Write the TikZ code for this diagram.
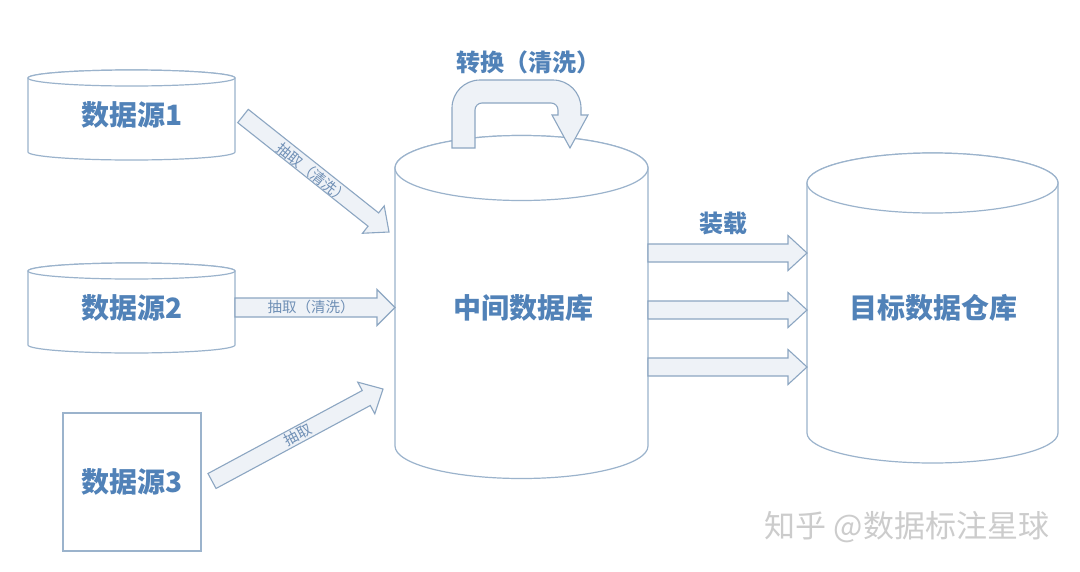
\documentclass[tikz,border=0pt]{standalone}
\usepackage{fontspec}
\newfontfamily\cjk{Noto Sans CJK SC}
\usetikzlibrary{calc}
\definecolor{txt}{HTML}{5182B8}
\definecolor{edge}{HTML}{9BB3CC}
\definecolor{aedge}{HTML}{8CA6C2}
\definecolor{afill}{HTML}{EEF2F7}
\definecolor{lbl}{HTML}{6F8FB5}
% cylinder: cx, rx, top y, bottom y, ry
\newcommand\mycyl[5]{%
  \filldraw[cylline] (#1-#2,#3) -- (#1-#2,#4)
    arc[start angle=180,end angle=360,x radius=#2 pt,y radius=#5 pt]
    -- (#1+#2,#3)
    arc[start angle=0,end angle=180,x radius=#2 pt,y radius=#5 pt] -- cycle;
  \draw[cylline] (#1,#3) ellipse[x radius=#2 pt,y radius=#5 pt];}
% block arrow: from, to, half shaft, half head, head length
\newcommand\myarrow[5]{%
  \coordinate (hb) at ($(#2)!#5!(#1)$);
  \draw[barrow] ($(#1)!#3!90:(#2)$) -- ($(hb)!#3!90:(#2)$) -- ($(hb)!#4!90:(#2)$)
    -- (#2) -- ($(hb)!#4!-90:(#2)$) -- ($(hb)!#3!-90:(#2)$) -- ($(#1)!#3!-90:(#2)$) -- cycle;}
\begin{document}
\begin{tikzpicture}[x=1pt,y=-1pt,
  cylline/.style={draw=edge,line width=1.2pt,fill=white},
  barrow/.style={draw=aedge,line width=1.1pt,fill=afill,line join=miter},
  big/.style={text=txt,font=\cjk\bfseries\fontsize{28}{30}\selectfont,inner sep=0pt},
  midtxt/.style={text=txt,font=\cjk\bfseries\fontsize{24}{26}\selectfont,inner sep=0pt},
  small/.style={text=lbl,font=\cjk\fontsize{14.5}{16}\selectfont,inner sep=0pt}]
\useasboundingbox (0,0) rectangle (1080,571);
\fill[white] (0,0) rectangle (1080,571);

% shapes
\mycyl{131.5}{103.5}{78}{152}{8}
\mycyl{131.5}{103.5}{271}{345}{8}
\draw[cylline] (63,413) rectangle (201,551);
\mycyl{521.5}{126.5}{168}{446}{32.5}
\mycyl{932.5}{125.5}{183}{433}{30}

% texts
\node[big] (src1) at (132,115) {数据源1};
\node[big] (src2) at (132,308) {数据源2};
\node[big] (src3) at (132,482) {数据源3};
\node[big] (mid) at (523,308) {中间数据库};
\node[big] (dw) at (933,308) {目标数据仓库};
\node[midtxt] (load) at (723,223) {装载};
\node[midtxt] (trans) at (528,62) {转换（清洗）};

% extraction arrows
\coordinate (a1s) at (243,116); \coordinate (a1e) at (389,232);
\coordinate (a2s) at (235,307.5); \coordinate (a2e) at (395,307.5);
\coordinate (a3s) at (212,481); \coordinate (a3e) at (383,389);
\myarrow{a1s}{a1e}{8.5pt}{17.5pt}{20pt}
\myarrow{a2s}{a2e}{9.5pt}{18pt}{18pt}
\myarrow{a3s}{a3e}{8.5pt}{18pt}{19pt}
\node[small,rotate=-38.5] (l1) at (313,173) {抽取（清洗）};
\node[small] (l2) at (311,307) {抽取（清洗）};
\node[small,rotate=28.3] (l3) at (298,435) {抽取};

% load arrows
\coordinate (b1s) at (648,253); \coordinate (b1e) at (807,253);
\coordinate (b2s) at (648,310); \coordinate (b2e) at (807,310);
\coordinate (b3s) at (648,367); \coordinate (b3e) at (807,367);
\myarrow{b1s}{b1e}{9pt}{17.5pt}{19pt}
\myarrow{b2s}{b2e}{9pt}{17.5pt}{19pt}
\myarrow{b3s}{b3e}{9pt}{17.5pt}{19pt}

% transform U-arrow
\draw[barrow] (452,148) -- (452,108) arc[start angle=180,end angle=90,radius=28pt]
  -- (553,80) arc[start angle=90,end angle=0,radius=28pt]
  -- (581,115) -- (588,115) -- (570,148) -- (552,115) -- (558,115) -- (558,110)
  arc[start angle=0,end angle=90,radius=7pt]
  -- (482,103) arc[start angle=90,end angle=180,radius=7pt]
  -- (475,148) -- cycle;

% watermark
\node[font=\cjk\fontsize{31}{33}\selectfont,text=black!20,inner sep=0pt] (wm) at (907,527) {知乎 @数据标注星球};
\end{tikzpicture}
\end{document}
